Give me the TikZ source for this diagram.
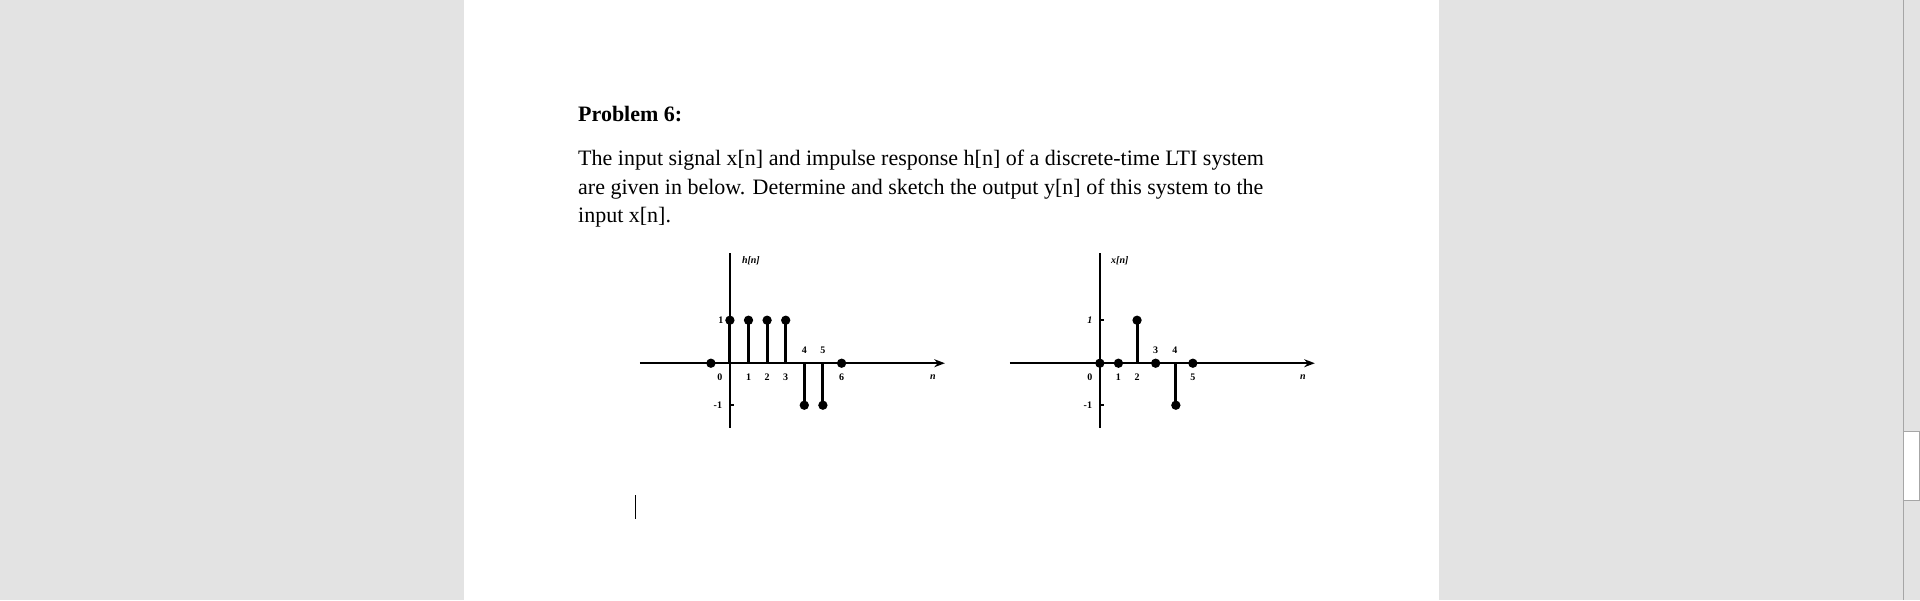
\documentclass[tikz,border=0pt]{standalone}
\usepackage{fontspec}
\setmainfont{Liberation Serif}
\usetikzlibrary{arrows.meta}
\begin{document}
\begin{tikzpicture}[x=0.75pt,y=-0.75pt,
  txt/.style={anchor=base west,inner sep=0pt,font=\fontsize{16.5}{20}\selectfont},
  lab/.style={inner sep=0pt,font=\fontsize{7.5}{9}\selectfont\bfseries},
  axis/.style={line width=1.2pt},
  stem/.style={line width=2.2pt},
  dot/.style={circle,fill=black,inner sep=0pt,minimum size=7pt}]
\fill[black!11] (0,0) rectangle (1920,600);
\fill[white] (464,0) rectangle (1439,600);
\draw[black!35] (1904,0) -- (1904,600);
\draw[black!35,fill=white] (1904,431) rectangle (1920,500);
\node[txt,font=\fontsize{16.5}{20}\selectfont\bfseries] (t0) at (578,121) {Problem 6:};
\node[txt] (t1) at (578,165) {The input signal x[n] and impulse response h[n] of a discrete-time LTI system};
\node[txt] (t2) at (578,194) {are given in below. Determine and sketch the output y[n] of this system to the};
\node[txt] (t3) at (578,222) {input x[n].};
\draw[line width=0.6pt] (635.5,495) -- (635.5,519);
% h[n]
\begin{scope}[shift={(730,363)}]
\coordinate (ha) at (-90,0); \coordinate (hb) at (215,0);
\draw[axis,-{Stealth[length=8pt,width=6pt]}] (ha) -- (hb);
\coordinate (hv1) at (0,-110); \coordinate (hv2) at (0,65);
\draw[axis] (hv1) -- (hv2);
\draw[axis] (0,42) -- (4,42);
\foreach \k in {0,1,2,3}{\node[dot] (h\k) at (18.6*\k,-43) {}; \draw[stem] (18.6*\k,0) -- (h\k.center);}
\foreach \k in {4,5}{\node[dot] (h\k) at (18.6*\k,42) {}; \draw[stem] (18.6*\k,0) -- (h\k.center);}
\node[dot] (hm) at (-19,0) {};
\node[dot] (h6) at (111.7,0) {};
\node[lab] (hl) at (21,-103) {\itshape h[n]};
\node[lab] at (-9,-43) {1};
\node[lab] at (-12,42) {-1};
\node[lab] at (-10,14) {0};
\node[lab] at (18.6,14) {1};
\node[lab] at (37.2,14) {2};
\node[lab] at (55.8,14) {3};
\node[lab] at (111.7,14) {6};
\node[lab] at (74.4,-13) {4};
\node[lab] at (93,-13) {5};
\node[lab] at (203,14) {\itshape n};
\end{scope}
% x[n]
\begin{scope}[shift={(1100,363)}]
\coordinate (xa) at (-90,0); \coordinate (xb) at (215,0);
\draw[axis,-{Stealth[length=8pt,width=6pt]}] (xa) -- (xb);
\coordinate (xv1) at (0,-110); \coordinate (xv2) at (0,65);
\draw[axis] (xv1) -- (xv2);
\draw[axis] (0,-43) -- (4,-43);
\draw[axis] (0,42) -- (4,42);
\foreach \k in {0,1,3,5}{\node[dot] (x\k) at (18.6*\k,0) {};}
\node[dot] (x2) at (37.2,-43) {}; \draw[stem] (37.2,0) -- (x2.center);
\node[dot] (x4) at (76,42) {}; \draw[stem] (76,0) -- (x4.center);
\node[lab] (xl) at (20,-103) {\itshape x[n]};
\node[lab] at (-10,-43) {\itshape 1};
\node[lab] at (-12,42) {-1};
\node[lab] at (-10,14) {0};
\node[lab] at (18.6,14) {1};
\node[lab] at (37.2,14) {2};
\node[lab] at (93,14) {5};
\node[lab] at (55.8,-13) {3};
\node[lab] at (75,-13) {4};
\node[lab] at (203,14) {\itshape n};
\end{scope}
\end{tikzpicture}
\end{document}
